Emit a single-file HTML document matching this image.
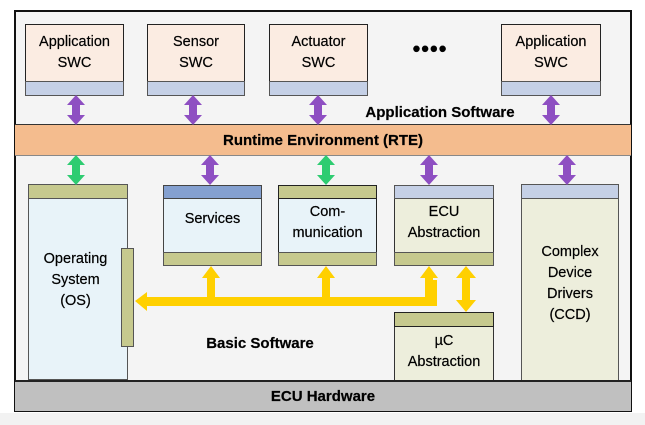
<html><head><style>
body{margin:0;width:645px;height:425px;background:#fff;font-family:"Liberation Sans",sans-serif;position:relative;overflow:hidden}
div{position:absolute;box-sizing:border-box}
.t{display:flex;align-items:center;justify-content:center;text-align:center;font-size:14.5px;line-height:21px;color:#000;-webkit-text-stroke:0.2px #000}
.b{border:1.5px solid #222}
</style></head><body>
<div style="left:14px;top:10px;width:618px;height:402px;background:#f4f4f4;border:2px solid #111"></div>
<div style="left:0;top:413px;width:645px;height:12px;background:#f2f2f2"></div>
<div class="b t" style="left:25px;top:24px;width:99px;height:58px;background:#fbece2">Application<br>SWC</div>
<div class="b" style="left:25px;top:81px;width:99px;height:15px;background:#c5d0e6;border-color:#555"></div>
<div class="b t" style="left:147px;top:24px;width:98px;height:58px;background:#fbece2">Sensor<br>SWC</div>
<div class="b" style="left:147px;top:81px;width:98px;height:15px;background:#c5d0e6;border-color:#555"></div>
<div class="b t" style="left:269px;top:24px;width:99px;height:58px;background:#fbece2">Actuator<br>SWC</div>
<div class="b" style="left:269px;top:81px;width:99px;height:15px;background:#c5d0e6;border-color:#555"></div>
<div class="b t" style="left:501px;top:24px;width:100px;height:58px;background:#fbece2">Application<br>SWC</div>
<div class="b" style="left:501px;top:81px;width:100px;height:15px;background:#c5d0e6;border-color:#555"></div>
<div class="t" style="left:400px;top:36px;width:60px;height:24px;font-size:22px;font-weight:bold;letter-spacing:1px">••••</div>
<div class="t" style="left:340px;top:102px;width:200px;height:20px;font-weight:bold;font-size:15px">Application Software</div>
<div class="t" style="left:15px;top:124px;width:616px;height:32px;background:#f4bc8e;border-top:1.5px solid #333;border-bottom:1.5px solid #888;font-weight:bold;font-size:15px">Runtime Environment (RTE)</div>
<div class="b" style="left:28px;top:184px;width:100px;height:196px;background:#e8f3f9;border-color:#555"></div>
<div class="b" style="left:28px;top:184px;width:100px;height:15px;background:#c6c98e;border-color:#555"></div>
<div class="t" style="left:28px;top:245px;width:95px;height:70px">Operating<br>System<br>(OS)</div>
<div class="b" style="left:121px;top:248px;width:13px;height:99px;background:#c6c98e;border-color:#555"></div>
<div class="b t" style="left:163px;top:185px;width:99px;height:81px;background:#e8f3f9;border-color:#444"></div>
<div class="b" style="left:163px;top:185px;width:99px;height:14px;background:#84a0d0;border-color:#444"></div>
<div class="b" style="left:163px;top:252px;width:99px;height:14px;background:#c6c98e;border-color:#555"></div>
<div class="t" style="left:163px;top:199px;width:99px;height:40px">Services</div>
<div class="b" style="left:278px;top:185px;width:99px;height:81px;background:#e8f3f9;border-color:#222"></div>
<div class="b" style="left:278px;top:185px;width:99px;height:14px;background:#c6c98e;border-color:#222"></div>
<div class="b" style="left:278px;top:252px;width:99px;height:14px;background:#c6c98e;border-color:#555"></div>
<div class="t" style="left:278px;top:199px;width:99px;height:48px">Com-<br>munication</div>
<div class="b" style="left:394px;top:185px;width:100px;height:81px;background:#edeedc;border-color:#333"></div>
<div class="b" style="left:394px;top:185px;width:100px;height:14px;background:#c5d0e6;border-color:#555"></div>
<div class="b" style="left:394px;top:252px;width:100px;height:14px;background:#c6c98e;border-color:#555"></div>
<div class="t" style="left:394px;top:199px;width:100px;height:48px">ECU<br>Abstraction</div>
<div class="b" style="left:394px;top:312px;width:100px;height:69px;background:#edeedc;border-color:#333"></div>
<div class="b" style="left:394px;top:312px;width:100px;height:15px;background:#c6c98e;border-color:#222"></div>
<div class="t" style="left:394px;top:327px;width:100px;height:50px">µC<br>Abstraction</div>
<div class="b" style="left:521px;top:184px;width:98px;height:197px;background:#edeedc;border-color:#555"></div>
<div class="b" style="left:521px;top:184px;width:98px;height:15px;background:#c5d0e6;border-color:#555"></div>
<div class="t" style="left:521px;top:240px;width:98px;height:88px">Complex<br>Device<br>Drivers<br>(CCD)</div>
<div class="t" style="left:180px;top:333px;width:160px;height:20px;font-weight:bold;font-size:15px">Basic Software</div>
<div class="t" style="left:15px;top:380px;width:616px;height:31px;background:#c0c0c0;border-top:2px solid #222;font-weight:bold;font-size:15px">ECU Hardware</div>
<svg style="position:absolute;left:0;top:0" width="645" height="425">
<defs>
<g id="da"><polygon points="0,-15 9,-5 4,-5 4,5 9,5 0,15 -9,5 -4,5 -4,-5 -9,-5"/></g>
</defs>
<g fill="#8e4fc2">
<use href="#da" x="76" y="110"/><use href="#da" x="193" y="110"/><use href="#da" x="318" y="110"/><use href="#da" x="551" y="110"/>
<use href="#da" x="210" y="170"/><use href="#da" x="429" y="170"/><use href="#da" x="567" y="170"/>
</g>
<g fill="#2ecc71"><use href="#da" x="76" y="170"/><use href="#da" x="326" y="170"/></g>
<g fill="#ffd000">
<polygon points="135,301 147,292 147,297 433,297 433,280 437,280 437,306 147,306 147,311"/>
<polygon points="207,297 207,278 202,278 211,266 220,278 215,278 215,297"/>
<polygon points="322,297 322,278 317,278 326,266 335,278 330,278 330,297"/>
<polygon points="425,297 425,278 420,278 429,266 438,278 433,278 433,297"/>
<polygon points="466,266 476,278 470,278 470,300 476,300 466,312 456,300 462,300 462,278 456,278"/>
</g>
</svg>
</body></html>
